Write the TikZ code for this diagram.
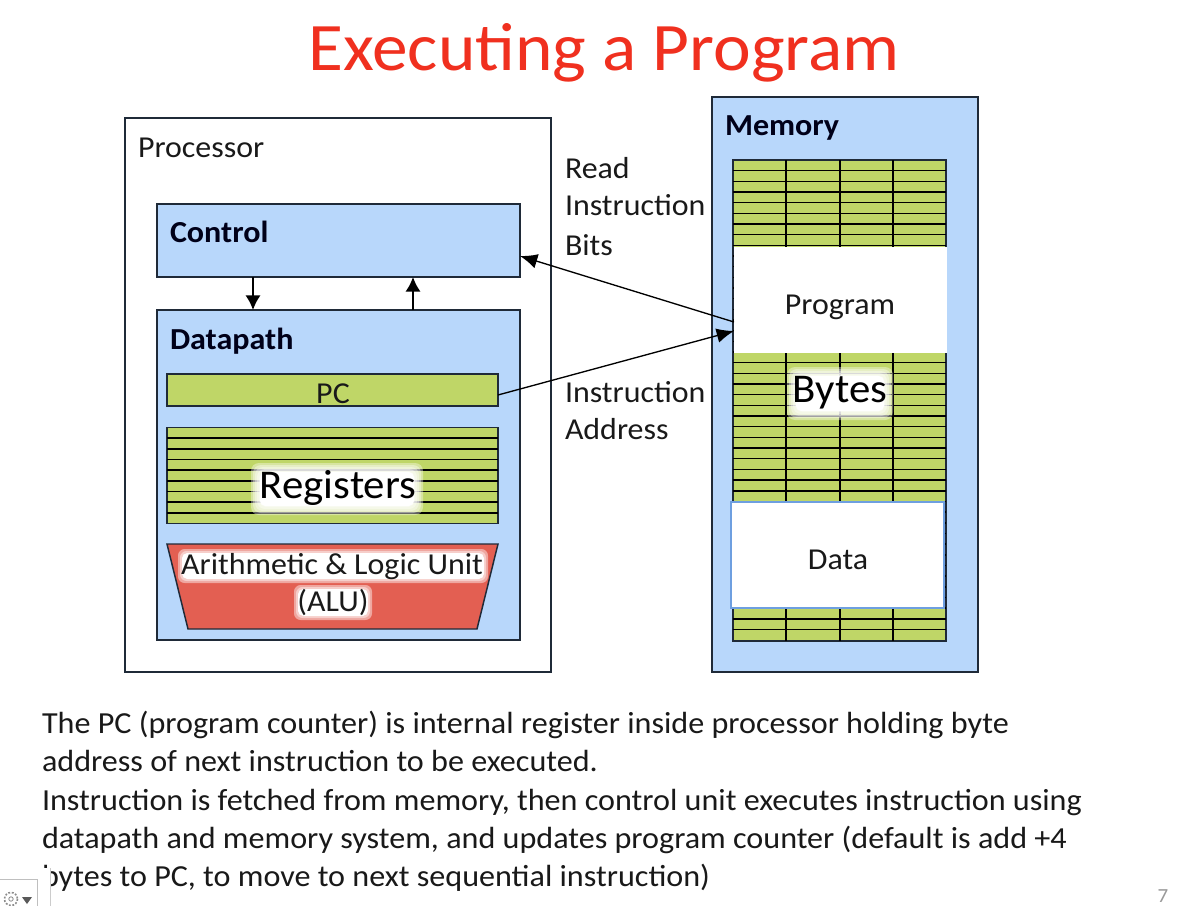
\documentclass[tikz,border=0pt]{standalone}
\usepackage{fontspec}
\setmainfont[FakeStretch=1.05]{Carlito}
\usetikzlibrary{arrows.meta}
\definecolor{panelblue}{HTML}{B8D7FB}
\definecolor{cellgreen}{HTML}{BFD667}
\definecolor{alured}{HTML}{E35F52}
\definecolor{titlered}{HTML}{F0301F}
\definecolor{edge}{HTML}{1F2A38}
\definecolor{databorder}{HTML}{6E9FE0}
\def\u{0.75pt}
% soft white glow: stacked rounded rectangles
\newcommand{\softglow}[4]{%
  \foreach \g in {9,7,5,3,1}
    \fill[white,opacity=0.38,rounded corners=6pt] (#1-\g,#2-\g) rectangle (#3+\g,#4+\g);
  \fill[white,rounded corners=4pt] (#1,#2) rectangle (#3,#4);
}
\tikzset{
  x=0.75pt,y=-0.75pt,
  panel/.style={draw=edge,line width=1.2pt,inner sep=0pt,outer sep=0pt,anchor=north west},
  bluepanel/.style={panel,fill=panelblue},
  whitepanel/.style={panel,fill=white},
  greenbar/.style={panel,fill=cellgreen},
  cellline/.style={black,line width=1.1pt},
  memwhite/.style={inner sep=0pt,outer sep=0pt,anchor=north west,fill=white},
  arrowline/.style={black,line width=1pt,-{Latex[length=13pt,width=11pt]}},
  thickarrow/.style={black,line width=1.5pt,-{Latex[length=11pt,width=11.5pt]}},
  label/.style={inner sep=0pt,outer sep=0pt,anchor=base west,text=black!90,font=\fontsize{22.8}{24}\selectfont},
  boldlabel/.style={label,font=\fontsize{22.9}{24}\selectfont\bfseries,text=black!90!blue},
  body/.style={label,font=\fontsize{22.95}{24}\selectfont},
  centertext/.style={anchor=base,inner sep=0pt,text=black!90,font=\fontsize{22.8}{24}\selectfont},
  bigtext/.style={anchor=base,inner sep=0pt,text=black,font=\fontsize{30.6}{32}\selectfont},
}
\begin{document}
\begin{tikzpicture}
\useasboundingbox (0,0) rectangle (1186,906);
\fill[white] (0,0) rectangle (1186,906);

\node[anchor=base,inner sep=0pt,text=titlered,font=\fontsize{51}{54}\selectfont] (title) at (604,71) {Executing a Program};

% Processor
\node[whitepanel,minimum width=426*\u,minimum height=554*\u] (processor) at (125,118) {};
\node[label] (processorlabel) at (138,157) {Processor};
\node[bluepanel,minimum width=363*\u,minimum height=73*\u] (control) at (157,204) {};
\node[boldlabel] (controllabel) at (170,242) {Control};
\node[bluepanel,minimum width=363*\u,minimum height=330*\u] (datapath) at (157,310) {};
\node[boldlabel] (datapathlabel) at (170,349) {Datapath};

% PC
\node[greenbar,minimum width=331*\u,minimum height=32*\u] (pc) at (167,374) {};
\node[centertext] (pclabel) at (333,403) {PC};

% Registers
\node[greenbar,minimum width=331*\u,minimum height=96*\u] (registers) at (167,427.5) {};
\foreach \i in {1,...,8}
  \draw[cellline] (167,427.5+\i*10.67) -- (498,427.5+\i*10.67);
\softglow{260}{472}{414}{506}
\node[bigtext] (registerslabel) at (338,498) {Registers};

% ALU
\draw[draw=edge,fill=alured,line width=1.1pt] (167,544) -- (498,544) -- (477,629) -- (188,629) -- cycle;
\foreach \g in {4,2}{
  \fill[white,opacity=0.45,rounded corners=5pt] (182-\g,553-\g) rectangle (484+\g,579+\g);
  \fill[white,opacity=0.45,rounded corners=5pt] (298-\g,589-\g) rectangle (368+\g,616+\g);
}
\fill[white,rounded corners=4pt] (182,553) rectangle (484,579);
\fill[white,rounded corners=4pt] (298,589) rectangle (368,616);
\node[centertext] (alulabelone) at (332,574) {Arithmetic \& Logic Unit};
\node[centertext] (alulabeltwo) at (333,611) {(ALU)};

% Memory
\node[bluepanel,minimum width=266*\u,minimum height=575*\u] (memory) at (712,97) {};
\node[boldlabel] (memorylabel) at (725,136) {Memory};
\node[greenbar,minimum width=213*\u,minimum height=481*\u] (bytes) at (733,160) {};
\foreach \i in {1,...,44}
  \draw[cellline] (733,160+\i*10.67) -- (946,160+\i*10.67);
\foreach \cx in {786,840,893}
  \draw[cellline] (\cx,160) -- (\cx,641);
\node[memwhite,minimum width=213*\u,minimum height=106*\u] (program) at (734,247) {};
\node[centertext] (programlabel) at (840,314) {Program};
\node[memwhite,draw=databorder,line width=.8pt,minimum width=213*\u,minimum height=106*\u] (data) at (731,502) {};
\node[centertext] (datalabel) at (838,569) {Data};
\softglow{796}{376}{884}{411}
\node[bigtext] (byteslabel) at (840,402) {Bytes};

% Connector labels
\node[label] (readone) at (565,178) {Read};
\node[label] (readtwo) at (565,215) {Instruction};
\node[label] (readthree) at (565,255) {Bits};
\node[label] (addrone) at (565,402) {Instruction};
\node[label] (addrtwo) at (565,439) {Address};

% Connectors
\coordinate (ctrlout) at (253,277);
\coordinate (dpin) at (253,310);
\coordinate (dpout) at (413,310);
\coordinate (ctrlin) at (413,277);
\coordinate (ctrlbus) at (520,256);
\coordinate (memread) at (734,322);
\coordinate (pcout) at (498,395);
\coordinate (memaddr) at (734,331);
\draw[thickarrow] (ctrlout) -- (dpin);
\draw[thickarrow] (dpout) -- (ctrlin);
\draw[arrowline] (memread) -- (ctrlbus);
\draw[arrowline] (pcout) -- (memaddr);

% Body text
\node[body] (bodyone) at (42,733) {The PC (program counter) is internal register inside processor holding byte};
\node[body] (bodytwo) at (42,771) {address of next instruction to be executed.};
\node[body] (bodythree) at (42,810) {Instruction is fetched from memory, then control unit executes instruction using};
\node[body] (bodyfour) at (42,848) {datapath and memory system, and updates program counter (default is add +4};
\node[body] (bodyfive) at (42,886) {bytes to PC, to move to next sequential instruction)};

% Slide widget and page number
\fill[white] (-2,868) rectangle (50,910);
\draw[draw=black!25,fill=white,line width=.7pt] (-2,879) rectangle (37,910);
\draw[draw=black!20,line width=.7pt] (50,868) -- (50,906);
\draw[black!45,line width=1.2pt,dash pattern=on 1.4pt off 1.2pt] (11,899) circle (6.5);
\draw[black!45,line width=.6pt] (11,899) circle (2.2);
\fill[black!65] (22,897) -- (32,897) -- (27,904) -- cycle;
\node[anchor=base,inner sep=0pt,text=black!40,font=\fontsize{15}{16}\selectfont] (pagenum) at (1163,902) {7};
\end{tikzpicture}
\end{document}
